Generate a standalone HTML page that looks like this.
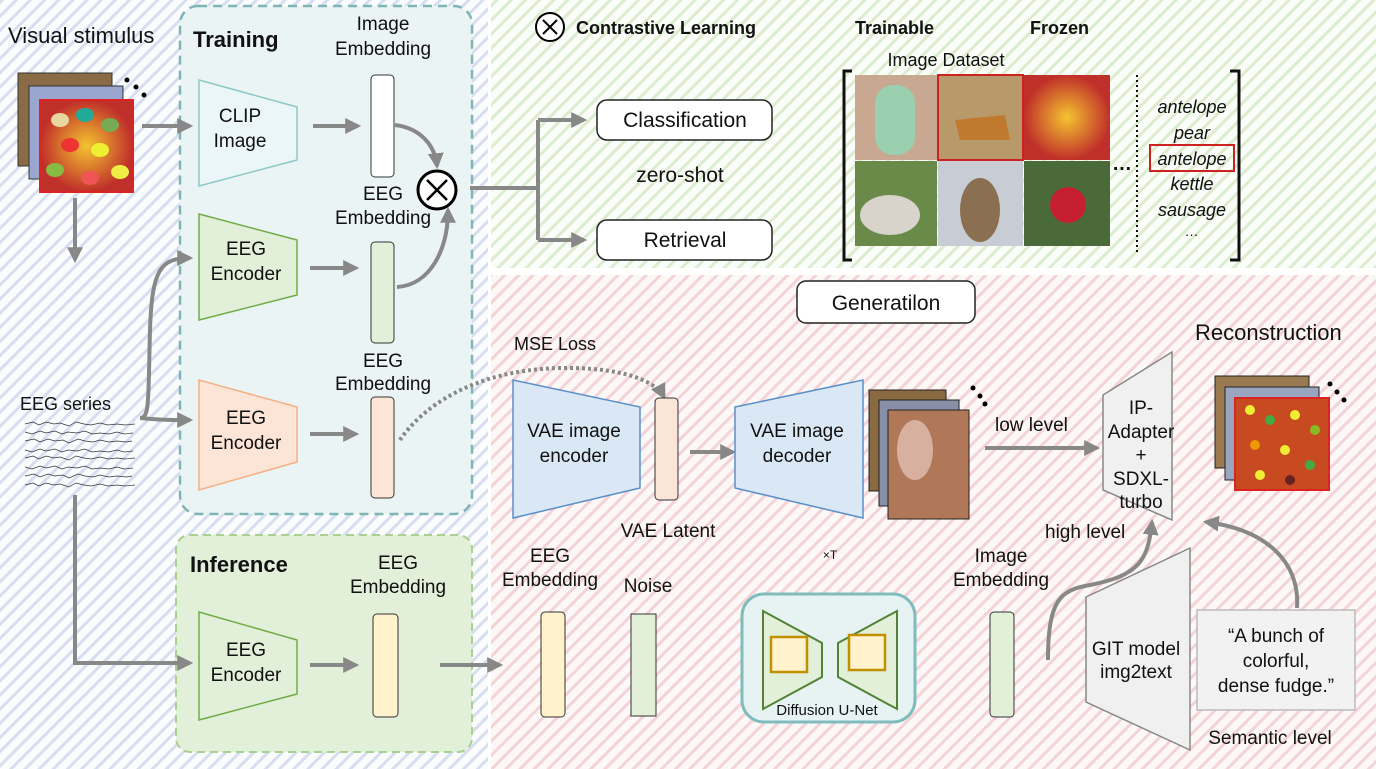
<!DOCTYPE html>
<html><head><meta charset="utf-8"><style>
html,body{margin:0;padding:0;width:1376px;height:769px;overflow:hidden;background:#fff}
svg text{font-family:"Liberation Sans",sans-serif;fill:#111}
</style></head><body>
<svg width="1376" height="769" viewBox="0 0 1376 769" xmlns="http://www.w3.org/2000/svg">
<defs>
<pattern id="hb" width="10" height="10" patternUnits="userSpaceOnUse" patternTransform="rotate(45)"><rect width="10" height="10" fill="#fbfcfe"/><rect width="3" height="10" fill="#d7deef"/></pattern>
<pattern id="hg" width="10" height="10" patternUnits="userSpaceOnUse" patternTransform="rotate(45)"><rect width="10" height="10" fill="#fbfdf9"/><rect width="3" height="10" fill="#dbeccf"/></pattern>
<pattern id="hp" width="10" height="10" patternUnits="userSpaceOnUse" patternTransform="rotate(45)"><rect width="10" height="10" fill="#fdf8f8"/><rect width="3" height="10" fill="#f3d3d6"/></pattern>
<marker id="ar" viewBox="0 0 10 10" refX="8" refY="5" markerWidth="4" markerHeight="4" orient="auto"><path d="M0,0L10,5L0,10z" fill="#888"/></marker>
<radialGradient id="jb"><stop offset="0" stop-color="#f4c430"/><stop offset="1" stop-color="#c0302a"/></radialGradient>
</defs>
<rect x="0" y="0" width="488" height="769" fill="url(#hb)"/>
<rect x="491" y="0" width="885" height="268" fill="url(#hg)"/>
<rect x="491" y="275" width="885" height="494" fill="url(#hp)"/>

<!-- training box -->
<rect x="180" y="6" width="292" height="508" rx="18" fill="#ebf4f4" stroke="#7fb5b5" stroke-width="2.5" stroke-dasharray="9,6"/>
<rect x="176" y="535" width="296" height="217" rx="14" fill="#e2efd9" stroke="#a9d08e" stroke-width="2" stroke-dasharray="8,5"/>

<text x="8" y="43" font-size="22">Visual stimulus</text>
<text x="193" y="47" font-size="22" font-weight="bold">Training</text>
<text x="383" y="30" font-size="19" text-anchor="middle">Image</text>
<text x="383" y="55" font-size="19" text-anchor="middle">Embedding</text>

<!-- stimulus stack -->
<rect x="18" y="73" width="94" height="93" fill="#8a6b45" stroke="#333"/>
<rect x="29" y="86" width="94" height="93" fill="#9aa6cf" stroke="#333"/>
<rect x="40" y="100" width="93" height="92" fill="url(#jb)" stroke="#d22" stroke-width="2"/>
<g fill="#4a4">
<ellipse cx="60" cy="120" rx="9" ry="7" fill="#e8d7a0"/><ellipse cx="85" cy="115" rx="9" ry="7" fill="#2a9"/><ellipse cx="110" cy="125" rx="9" ry="7" fill="#7a5"/><ellipse cx="70" cy="145" rx="9" ry="7" fill="#e33"/><ellipse cx="100" cy="150" rx="9" ry="7" fill="#ee3"/><ellipse cx="55" cy="170" rx="9" ry="7" fill="#8b4"/><ellipse cx="90" cy="178" rx="9" ry="7" fill="#e55"/><ellipse cx="120" cy="172" rx="9" ry="7" fill="#ee4"/>
</g>
<circle cx="127" cy="80" r="2.5"/><circle cx="136" cy="87" r="2.5"/><circle cx="144" cy="95" r="2.5"/>

<g stroke="#888" stroke-width="4" fill="none" marker-end="url(#ar)">
<line x1="142" y1="126" x2="190" y2="126"/>
<line x1="313" y1="126" x2="358" y2="126"/>
<line x1="310" y1="268" x2="356" y2="268"/>
<line x1="310" y1="434" x2="356" y2="434"/>
<line x1="310" y1="665" x2="356" y2="665"/>
<line x1="75" y1="198" x2="75" y2="260"/>
<line x1="440" y1="665" x2="500" y2="665"/>
<path d="M395,125 C420,128 435,145 437,166"/>
<path d="M397,287 C430,285 448,250 448,210"/>
<path d="M140,418 C150,418 148,400 150,330 C152,270 160,258 190,258"/>
<path d="M140,418 C160,420 170,420 190,420"/>
<path d="M75,495 L75,663 L190,663"/>
<path d="M470,188 L538,188 M538,120 L538,240 M538,120 L584,120 M538,240 L584,240" marker-end="none"/>
<line x1="538" y1="120" x2="584" y2="120"/>
<line x1="538" y1="240" x2="584" y2="240"/>
<line x1="690" y1="452" x2="733" y2="452"/>
<line x1="985" y1="448" x2="1097" y2="448"/>
<path d="M1048,660 C1048,600 1060,590 1090,585 C1140,575 1148,560 1152,522"/>
<path d="M1297,608 C1300,565 1270,530 1206,522"/>
</g>
<path d="M400,440 C420,410 470,370 560,368 C620,367 655,380 664,397" stroke="#888" stroke-width="4" fill="none" stroke-dasharray="3,3" marker-end="url(#ar)"/>

<!-- CLIP -->
<path d="M199,80 L297,107 L297,160 L199,186 Z" fill="#eaf6f8" stroke="#8cc8c8" stroke-width="1.5"/>
<text x="240" y="122" font-size="19" text-anchor="middle">CLIP</text>
<text x="240" y="147" font-size="19" text-anchor="middle">Image</text>
<rect x="371" y="75" width="23" height="102" rx="4" fill="#fff" stroke="#333"/>
<circle cx="437" cy="190" r="19" fill="#fff" stroke="#000" stroke-width="3"/>
<path d="M427,180 L447,200 M447,180 L427,200" stroke="#000" stroke-width="2.5"/>
<text x="383" y="200" font-size="19" text-anchor="middle">EEG</text>
<text x="383" y="224" font-size="19" text-anchor="middle">Embedding</text>

<path d="M199,214 L297,240 L297,295 L199,320 Z" fill="#e2efd9" stroke="#70ad47" stroke-width="1.5"/>
<text x="246" y="255" font-size="19" text-anchor="middle">EEG</text>
<text x="246" y="280" font-size="19" text-anchor="middle">Encoder</text>
<rect x="371" y="242" width="23" height="101" rx="4" fill="#e2efd9" stroke="#333"/>

<text x="383" y="367" font-size="19" text-anchor="middle">EEG</text>
<text x="383" y="390" font-size="19" text-anchor="middle">Embedding</text>
<path d="M199,380 L297,407 L297,462 L199,490 Z" fill="#fce4d6" stroke="#f4b183" stroke-width="1.5"/>
<text x="246" y="424" font-size="19" text-anchor="middle">EEG</text>
<text x="246" y="449" font-size="19" text-anchor="middle">Encoder</text>
<rect x="371" y="397" width="23" height="101" rx="4" fill="#fce4d6" stroke="#333"/>

<text x="20" y="410" font-size="18">EEG series</text>
<g stroke="#333" stroke-width="0.7" fill="none">
<path d="M25,424 l8,-2 6,3 7,-3 8,2 6,-1 9,3 7,-4 8,2 7,1 9,-2 8,2 9,-1 8,1 10,-1"/>
<path d="M25,432 l7,2 8,-3 6,2 9,-2 7,3 6,-2 9,1 8,-2 7,3 8,-1 9,1 8,-2 7,2 9,-1"/>
<path d="M25,441 l9,-2 6,3 8,-3 7,2 8,-1 6,3 9,-4 7,2 8,1 7,-2 9,2 8,-1 9,1 6,-1"/>
<path d="M25,450 l7,2 8,-3 6,2 9,-2 7,3 6,-2 9,1 8,-2 7,3 8,-1 9,1 8,-2 7,2 9,-1"/>
<path d="M25,458 l8,-2 6,3 7,-3 8,2 6,-1 9,3 7,-4 8,2 7,1 9,-2 8,2 9,-1 8,1 10,-1"/>
<path d="M25,467 l7,2 8,-3 6,2 9,-2 7,3 6,-2 9,1 8,-2 7,3 8,-1 9,1 8,-2 7,2 9,-1"/>
<path d="M25,476 l9,-2 6,3 8,-3 7,2 8,-1 6,3 9,-4 7,2 8,1 7,-2 9,2 8,-1 9,1 6,-1"/>
<path d="M25,485 l8,-2 6,3 7,-3 8,2 6,-1 9,3 7,-4 8,2 7,1 9,-2 8,2 9,-1 8,1 10,-1"/>
</g>

<!-- inference -->
<text x="190" y="572" font-size="22" font-weight="bold">Inference</text>
<text x="398" y="569" font-size="19" text-anchor="middle">EEG</text>
<text x="398" y="593" font-size="19" text-anchor="middle">Embedding</text>
<path d="M199,612 L297,640 L297,694 L199,720 Z" fill="#e2efd9" stroke="#70ad47" stroke-width="1.5"/>
<text x="246" y="656" font-size="19" text-anchor="middle">EEG</text>
<text x="246" y="681" font-size="19" text-anchor="middle">Encoder</text>
<rect x="373" y="614" width="25" height="103" rx="4" fill="#fff2cc" stroke="#333"/>

<!-- top right -->
<circle cx="550" cy="27" r="14" fill="#fff" stroke="#000" stroke-width="2"/>
<path d="M543,20 L557,34 M557,20 L543,34" stroke="#000" stroke-width="2"/>
<text x="576" y="34" font-size="18" font-weight="bold">Contrastive Learning</text>
<text x="855" y="34" font-size="18" font-weight="bold">Trainable</text>
<text x="1030" y="34" font-size="18" font-weight="bold">Frozen</text>
<rect x="597" y="100" width="175" height="40" rx="10" fill="#fff" stroke="#222" stroke-width="1.5"/>
<text x="685" y="127" font-size="21" text-anchor="middle">Classification</text>
<text x="680" y="182" font-size="21" text-anchor="middle">zero-shot</text>
<rect x="597" y="220" width="175" height="40" rx="10" fill="#fff" stroke="#222" stroke-width="1.5"/>
<text x="685" y="247" font-size="21" text-anchor="middle">Retrieval</text>

<text x="946" y="66" font-size="18" text-anchor="middle">Image Dataset</text>
<path d="M852,71 L844,71 L844,260 L852,260" stroke="#111" stroke-width="3" fill="none"/>
<path d="M1230,71 L1239,71 L1239,260 L1230,260" stroke="#111" stroke-width="3" fill="none"/>
<rect x="855" y="75" width="82" height="85" fill="#c8a890"/>
<rect x="875" y="85" width="40" height="70" rx="18" fill="#9ad0b0"/>
<rect x="938" y="75" width="85" height="85" fill="#b89a6a"/>
<path d="M955,120 L1005,115 L1010,140 L960,140Z" fill="#c07a30"/>
<rect x="938" y="75" width="85" height="85" fill="none" stroke="#c22" stroke-width="2"/>
<rect x="1024" y="75" width="86" height="85" fill="url(#jb)"/>
<rect x="855" y="161" width="82" height="85" fill="#6a8a4a"/>
<ellipse cx="890" cy="215" rx="30" ry="20" fill="#d8d4cc"/>
<rect x="938" y="161" width="85" height="85" fill="#c8ccd4"/>
<ellipse cx="980" cy="210" rx="20" ry="32" fill="#8a7050"/>
<rect x="1024" y="161" width="86" height="85" fill="#4a6a3a"/>
<circle cx="1068" cy="205" r="18" fill="#c62030"/>
<text x="1112" y="170" font-size="20" font-weight="bold">…</text>
<line x1="1137" y1="75" x2="1137" y2="255" stroke="#111" stroke-width="2" stroke-dasharray="2,3"/>
<g font-size="18" font-style="italic" text-anchor="middle">
<text x="1192" y="113" font-family="DejaVu Sans,sans-serif">antelope</text>
<text x="1192" y="139" font-family="DejaVu Sans,sans-serif">pear</text>
<text x="1192" y="165" font-family="DejaVu Sans,sans-serif">antelope</text>
<text x="1192" y="190" font-family="DejaVu Sans,sans-serif">kettle</text>
<text x="1192" y="216" font-family="DejaVu Sans,sans-serif">sausage</text>
<text x="1192" y="236" font-size="14">…</text>
</g>
<rect x="1150" y="145" width="84" height="26" fill="none" stroke="#c22" stroke-width="2"/>

<!-- bottom right -->
<rect x="797" y="281" width="178" height="42" rx="9" fill="#fff" stroke="#222" stroke-width="1.5"/>
<text x="886" y="310" font-size="21" text-anchor="middle">Generatilon</text>
<text x="1195" y="340" font-size="22">Reconstruction</text>
<text x="514" y="350" font-size="18">MSE Loss</text>

<path d="M513,380 L640,407 L640,488 L513,518 Z" fill="#dae8f5" stroke="#5b8fc9" stroke-width="1.5"/>
<text x="574" y="437" font-size="19" text-anchor="middle">VAE image</text>
<text x="574" y="462" font-size="19" text-anchor="middle">encoder</text>
<rect x="655" y="398" width="23" height="102" rx="4" fill="#fbe5d6" stroke="#333"/>
<text x="668" y="537" font-size="19" text-anchor="middle">VAE Latent</text>
<path d="M735,407 L863,380 L863,518 L735,488 Z" fill="#dae8f5" stroke="#5b8fc9" stroke-width="1.5"/>
<text x="797" y="437" font-size="19" text-anchor="middle">VAE image</text>
<text x="797" y="462" font-size="19" text-anchor="middle">decoder</text>
<rect x="869" y="390" width="77" height="101" fill="#8a6a40" stroke="#222"/>
<rect x="879" y="400" width="80" height="106" fill="#8890a8" stroke="#222"/>
<rect x="888" y="410" width="81" height="109" fill="#b07858" stroke="#222"/>
<ellipse cx="915" cy="450" rx="18" ry="30" fill="#d8b0a0"/>
<circle cx="973" cy="388" r="2.5"/><circle cx="980" cy="396" r="2.5"/><circle cx="985" cy="404" r="2.5"/>
<text x="995" y="431" font-size="19">low level</text>

<path d="M1103,395 L1172,352 L1172,520 L1103,490 Z" fill="#f0f0f0" stroke="#888" stroke-width="1.5"/>
<g font-size="19" text-anchor="middle">
<text x="1141" y="414">IP-</text><text x="1141" y="438">Adapter</text><text x="1141" y="461">+</text><text x="1141" y="485">SDXL-</text><text x="1141" y="508">turbo</text>
</g>
<rect x="1215" y="376" width="94" height="92" fill="#9a7a50" stroke="#222"/>
<rect x="1225" y="387" width="94" height="93" fill="#9aa6c0" stroke="#222"/>
<rect x="1235" y="398" width="94" height="92" fill="#c84a20" stroke="#d22" stroke-width="2"/>
<g><circle cx="1250" cy="410" r="5" fill="#ee3"/><circle cx="1270" cy="420" r="5" fill="#4a4"/><circle cx="1295" cy="415" r="5" fill="#ee3"/><circle cx="1315" cy="430" r="5" fill="#8b2"/><circle cx="1255" cy="445" r="5" fill="#e90"/><circle cx="1285" cy="450" r="5" fill="#ee3"/><circle cx="1310" cy="465" r="5" fill="#4a4"/><circle cx="1260" cy="475" r="5" fill="#ee3"/><circle cx="1290" cy="480" r="5" fill="#622"/></g>
<circle cx="1330" cy="384" r="2.5"/><circle cx="1337" cy="392" r="2.5"/><circle cx="1344" cy="400" r="2.5"/>
<text x="1045" y="538" font-size="19">high level</text>

<text x="550" y="562" font-size="19" text-anchor="middle">EEG</text>
<text x="550" y="586" font-size="19" text-anchor="middle">Embedding</text>
<rect x="541" y="612" width="24" height="105" rx="4" fill="#fff2cc" stroke="#333"/>
<text x="648" y="592" font-size="19" text-anchor="middle">Noise</text>
<rect x="631" y="614" width="25" height="102" fill="#e2efd9" stroke="#333"/>
<text x="830" y="559" font-size="12" text-anchor="middle">×T</text>
<rect x="742" y="594" width="173" height="128" rx="22" fill="#e7f3f3" stroke="#7fbcbc" stroke-width="3"/>
<path d="M763,611 L822,643 L822,677 L763,709 Z" fill="#e2efd9" stroke="#548235" stroke-width="2"/>
<path d="M897,611 L838,643 L838,677 L897,709 Z" fill="#e2efd9" stroke="#548235" stroke-width="2"/>
<rect x="771" y="637" width="36" height="35" fill="#fff2cc" stroke="#bf9000" stroke-width="2.5"/>
<rect x="849" y="635" width="36" height="35" fill="#fff2cc" stroke="#bf9000" stroke-width="2.5"/>
<text x="827" y="715" font-size="15" text-anchor="middle">Diffusion U-Net</text>
<text x="1001" y="562" font-size="19" text-anchor="middle">Image</text>
<text x="1001" y="586" font-size="19" text-anchor="middle">Embedding</text>
<rect x="990" y="612" width="24" height="105" rx="4" fill="#e2efd9" stroke="#333"/>

<path d="M1086,597 L1190,548 L1190,750 L1086,702 Z" fill="#f0f0f0" stroke="#888" stroke-width="1.5"/>
<text x="1136" y="655" font-size="19" text-anchor="middle">GIT model</text>
<text x="1136" y="678" font-size="19" text-anchor="middle">img2text</text>
<rect x="1197" y="610" width="158" height="100" fill="#f2f2f2" stroke="#bbb" stroke-width="1.5"/>
<text x="1276" y="642" font-size="19" text-anchor="middle">“A bunch of</text>
<text x="1276" y="667" font-size="19" text-anchor="middle">colorful,</text>
<text x="1276" y="692" font-size="19" text-anchor="middle">dense fudge.”</text>
<text x="1270" y="744" font-size="19" text-anchor="middle">Semantic level</text>
</svg>
</body></html>
